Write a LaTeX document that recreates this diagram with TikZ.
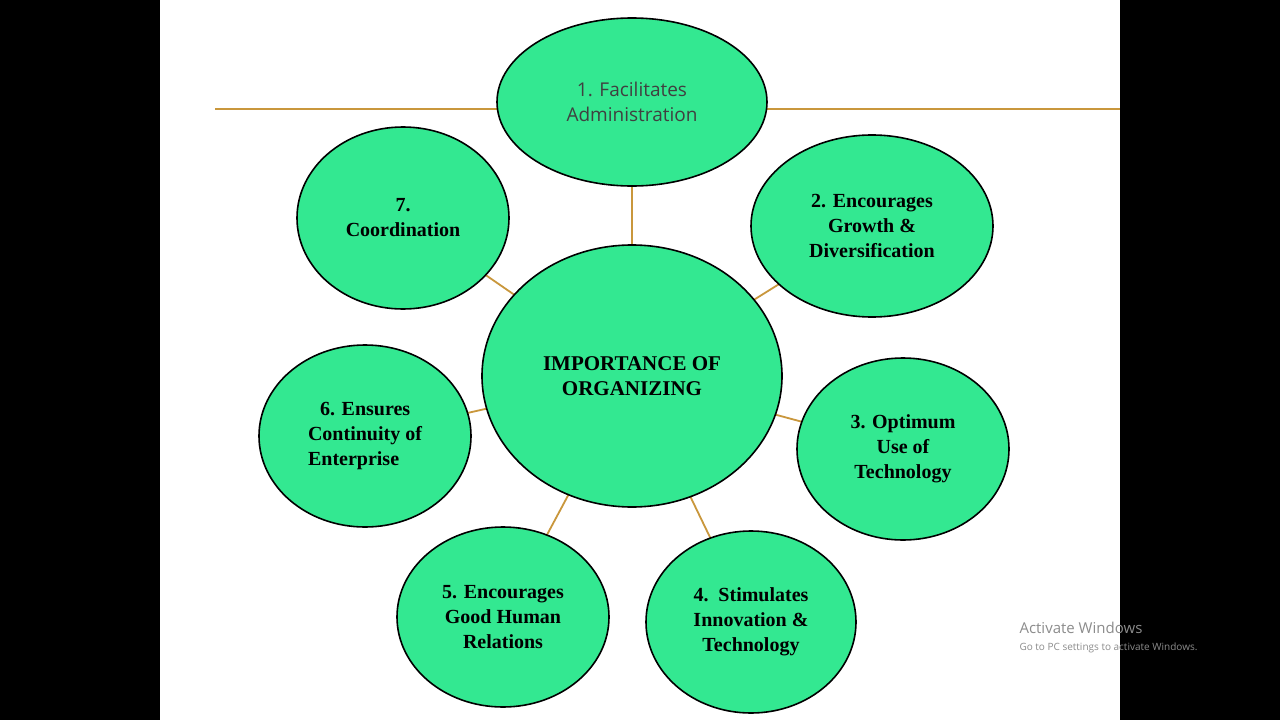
\documentclass[tikz,border=0pt]{standalone}
\usepackage{fontspec}
\setmainfont{Liberation Serif}
\newfontfamily\sansf{Open Sans}
\usetikzlibrary{shapes.geometric}
\begin{document}
\begin{tikzpicture}[x=1pt,y=-1pt,
  bub/.style={ellipse,draw=black,line width=1.6pt,fill=bubg,inner sep=0pt,align=center,font=\bfseries\fontsize{20}{25}\selectfont},
  con/.style={draw=linkc,line width=1.8pt}]
\definecolor{bubg}{HTML}{33E891}
\definecolor{linkc}{HTML}{C9973C}
\useasboundingbox (0,0) rectangle (1280,720);
\fill[black] (0,0) rectangle (1280,720);
\fill[white] (160,0) rectangle (1120,720);
\coordinate (l0) at (215,109);
\coordinate (l1) at (1120,109);
\draw[draw=linkc,line width=1.5pt] (l0) -- (l1);
\coordinate (c0) at (632,376);
\coordinate (c1) at (632,102);
\coordinate (c2) at (872,226);
\coordinate (c3) at (903,449);
\coordinate (c4) at (751,622);
\coordinate (c5) at (503,617);
\coordinate (c6) at (365,436);
\coordinate (c7) at (403,218);
\foreach \i in {1,...,7} \draw[con] (c0) -- (c\i);
\node[bub,minimum width=270pt,minimum height=168pt,font=\sansf\fontsize{19}{25}\selectfont,text=black!75] (n1) at (c1) {1. Facilitates\\Administration};
\node[bub,minimum width=242pt,minimum height=182pt] (n2) at (c2) {2. Encourages\\Growth \&\\Diversification};
\node[bub,minimum width=212pt,minimum height=182pt] (n3) at (c3) {3. Optimum\\Use of\\Technology};
\node[bub,minimum width=210pt,minimum height=182pt] (n4) at (c4) {4.\ \ Stimulates\\Innovation \&\\Technology};
\node[bub,minimum width=212pt,minimum height=180pt] (n5) at (c5) {5. Encourages\\Good Human\\Relations};
\node[bub,minimum width=212pt,minimum height=182pt,align=left] (n6) at (c6) {\hspace*{0.6em}6. Ensures\\Continuity of\\Enterprise};
\node[bub,minimum width=212pt,minimum height=182pt] (n7) at (c7) {7.\\Coordination};
\node[bub,minimum width=300pt,minimum height=262pt,font=\bfseries\fontsize{21}{25}\selectfont] (n0) at (c0) {IMPORTANCE OF\\ORGANIZING};
\node[anchor=west,text=black!45,font=\sansf\fontsize{15}{18}\selectfont] (w1) at (1016,628) {Activate Windows};
\node[anchor=west,text=black!45,font=\sansf\fontsize{10}{12}\selectfont] (w2) at (1016,648) {Go to PC settings to activate Windows.};
\end{tikzpicture}
\end{document}
